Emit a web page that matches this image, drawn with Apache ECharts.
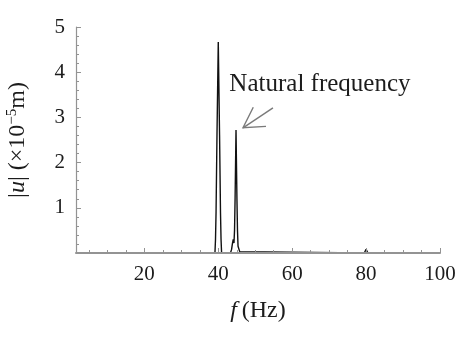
<!DOCTYPE html>
<html>
<head>
<meta charset="utf-8">
<script src="https://cdn.jsdelivr.net/npm/echarts@6/dist/echarts.min.js"></script>
<style>
  html, body { margin: 0; padding: 0; background: #fff; }
  #chart { width: 474px; height: 339px; }
</style>
</head>
<body>
<div id="chart"></div>
<script>
// Amplitude spectrum |u| against frequency f (Hz)
const freqHz = [1.5, 39.1, 39.25, 39.4, 39.65, 40.0, 40.35, 40.6, 40.75, 40.9,
                43.3, 43.6, 43.85, 44.05, 44.25, 44.4, 44.55, 44.8, 45.05, 45.2, 45.35, 45.55, 45.8, 46.1,
                79.5, 80.0, 80.5, 100];
const ampE5 = [0, 0, 0.3, 0.9, 2.6, 4.67, 2.6, 0.9, 0.3, 0,
               0, 0.08, 0.22, 0.3, 0.22, 0.5, 1.2, 2.72, 1.2, 0.5, 0.15, 0.12, 0.03, 0,
               0, 0.08, 0, 0];

const xMinorTicks = [5, 10, 15, 20, 25, 30, 35, 40, 45, 50, 55, 60, 65, 70, 75, 80, 85, 90, 95, 100];
const xMajorTicks = [20, 40, 60, 80, 100];
const yTicks = [1, 2, 3, 4, 5];

// Annotation anchors, in (f, |u|) data units
const noteText = 'Natural frequency';
const noteAt = [43.0, 3.72];
const arrowTip = [46.7, 2.77];
const arrowTail = [54.8, 3.21];

const serif = '"Liberation Serif", "DejaVu Serif", serif';
const axisGray = '#939393';
const ink = '#1c1c1c';

const chart = echarts.init(document.getElementById('chart'), null, { renderer: 'canvas' });

const baseX = {
  type: 'value', min: 1.5, max: 100, gridIndex: 0, position: 'bottom',
  splitLine: { show: false }
};

chart.setOption({
  animation: false,
  backgroundColor: '#ffffff',
  grid: { left: 76, right: 34, top: 27, bottom: 86, containLabel: false, outerBoundsMode: 'none' },
  xAxis: [
    Object.assign({}, baseX, {
      axisLine: { show: true, lineStyle: { color: axisGray, width: 2 } },
      axisTick: { show: true, inside: true, length: 3, customValues: xMinorTicks,
                  lineStyle: { color: axisGray, width: 1 } },
      axisLabel: { show: false },
      z: 5
    }),
    Object.assign({}, baseX, {
      axisLine: { show: false },
      axisTick: { show: true, inside: true, length: 5, customValues: xMajorTicks,
                  lineStyle: { color: axisGray, width: 1 } },
      axisLabel: { show: true, customValues: xMajorTicks, margin: 11,
                   fontFamily: serif, fontSize: 21, color: ink },
      name: '{i|f}\u2009(Hz)',
      nameLocation: 'middle', nameGap: 46,
      nameTextStyle: { fontFamily: serif, fontSize: 24, color: ink,
                       rich: { i: { fontFamily: serif, fontSize: 24, fontStyle: 'italic', color: ink } } },
      z: 5
    })
  ],
  yAxis: {
    type: 'value', min: 0, max: 5, interval: 1,
    axisLine: { show: true, lineStyle: { color: axisGray, width: 1.2 } },
    axisTick: { show: true, inside: true, length: 5, customValues: yTicks,
                lineStyle: { color: axisGray, width: 1 } },
    minorTick: { show: true, splitNumber: 5, length: 3, lineStyle: { color: axisGray, width: 1 } },
    splitLine: { show: false },
    axisLabel: { margin: 11, fontFamily: serif, fontSize: 21, color: ink, customValues: yTicks },
    name: '|{i|u}| (×10{sup|−5}m)',
    nameLocation: 'middle', nameGap: 46, nameRotate: 90,
    nameTextStyle: { fontFamily: serif, fontSize: 24, color: ink,
                     rich: {
                       i: { fontFamily: serif, fontSize: 24, fontStyle: 'italic', color: ink },
                       sup: { fontFamily: serif, fontSize: 15, color: ink, verticalAlign: 'top', padding: [0, 0, 10, 0] }
                     } },
    z: 5
  },
  series: [{
    type: 'line',
    xAxisIndex: 0, yAxisIndex: 0,
    data: freqHz.map((f, i) => [f, ampE5[i]]),
    showSymbol: false,
    symbol: 'none',
    lineStyle: { color: '#111', width: 1.4 },
    z: 2
  }]
});

// Annotation: label plus an open arrowhead pointing at the second peak
function drawNote() {
  const toPx = p => chart.convertToPixel({ xAxisIndex: 0, yAxisIndex: 0 }, p);
  const tip = toPx(arrowTip);
  const tail = toPx(arrowTail);
  const at = toPx(noteAt);
  const ang = Math.atan2(tail[1] - tip[1], tail[0] - tip[0]);
  const wing = 23, spread = Math.PI / 6;
  const w1 = [tip[0] + wing * Math.cos(ang - spread), tip[1] + wing * Math.sin(ang - spread)];
  const w2 = [tip[0] + wing * Math.cos(ang + spread), tip[1] + wing * Math.sin(ang + spread)];
  const stroke = { stroke: '#7a7a7a', lineWidth: 1.4, fill: null };
  chart.setOption({
    graphic: [
      { type: 'text', x: at[0], y: at[1],
        style: { text: noteText, font: '25px ' + serif, fill: ink,
                 textAlign: 'left', textVerticalAlign: 'middle' } },
      { type: 'polyline', shape: { points: [tail, tip] }, style: stroke },
      { type: 'polyline', shape: { points: [w1, tip, w2] }, style: stroke }
    ]
  });
}
drawNote();
</script>
</body>
</html>
